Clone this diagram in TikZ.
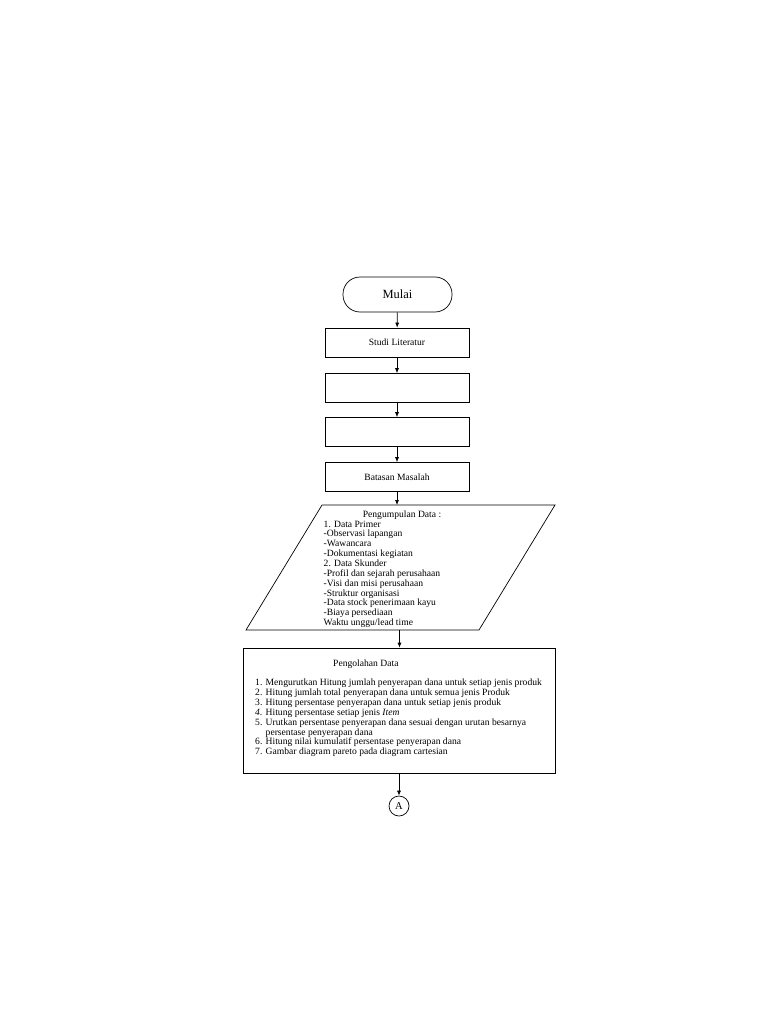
\documentclass[tikz,border=0pt]{standalone}
\usepackage{fontspec}
\setmainfont{Liberation Serif}
\usetikzlibrary{arrows.meta}
\begin{document}
\begin{tikzpicture}[x=1pt,y=-1pt,
  every node/.style={inner sep=0pt},
  proc/.style={draw,line width=0.7pt,minimum width=144pt,minimum height=29pt,font=\fontsize{9.6}{11}\selectfont},
  term/.style={draw,line width=0.7pt,rounded corners=17pt,minimum width=109pt,minimum height=35pt,font=\fontsize{12.5}{14}\selectfont},
  flow/.style={line width=0.7pt,-{Latex[length=5pt,width=4pt]}},
  txt/.style={font=\fontsize{9.6}{9.85}\selectfont,align=left}]
\useasboundingbox (0,0) rectangle (768,1024);
\node[term] (mulai) at (397.5,294.5) {Mulai};
\node[proc] (studi) at (397,342.5) {Studi Literatur};
\node[proc] (b2) at (397,388) {};
\node[proc] (b3) at (397,432) {};
\node[proc] (batas) at (397,477) {Batasan Masalah};
% parallelogram
\coordinate (pTL) at (322,505);
\coordinate (pTR) at (555,505);
\coordinate (pBR) at (479,630);
\coordinate (pBL) at (246,630);
\coordinate (pTop) at (397,505);
\coordinate (pBot) at (399.5,630);
\draw[line width=0.7pt] (pTL) -- (pTR) -- (pBR) -- (pBL) -- cycle;
\node[txt,anchor=base] (ptitle) at (402,517) {Pengumpulan Data :};
\node[txt,anchor=north west] (plist) at (323.5,520.5) {1. Data Primer\\
-Observasi lapangan\\
-Wawancara\\
-Dokumentasi kegiatan\\
2. Data Skunder\\
-Profil dan sejarah perusahaan\\
-Visi dan misi perusahaan\\
-Struktur organisasi\\
-Data stock penerimaan kayu\\
-Biaya persediaan\\
Waktu unggu/lead time};
\node[draw,line width=0.7pt,minimum width=312pt,minimum height=125pt] (olah) at (399,710.5) {};
\node[txt,anchor=base west] (otitle) at (333,666) {Pengolahan Data};
\newcommand{\itm}[1]{\makebox[10.5pt][l]{#1}}
\node[txt,anchor=north west] (olist) at (255,679) {\itm{1.}Mengurutkan Hitung jumlah penyerapan dana untuk setiap jenis produk\\
\itm{2.}Hitung jumlah total penyerapan dana untuk semua jenis Produk\\
\itm{3.}Hitung persentase penyerapan dana untuk setiap jenis produk\\
\itm{\textit{4.}}Hitung persentase setiap jenis \textit{Item}\\
\itm{5.}Urutkan persentase penyerapan dana sesuai dengan urutan besarnya\\
\itm{}persentase penyerapan dana\\
\itm{6.}Hitung nilai kumulatif persentase penyerapan dana\\
\itm{7.}Gambar diagram pareto pada diagram cartesian};
\node[draw,circle,line width=0.7pt,minimum size=20pt,font=\fontsize{10.5}{12}\selectfont] (A) at (399,806) {A};
\draw[flow] (mulai) -- (studi);
\draw[flow] (studi) -- (b2);
\draw[flow] (b2) -- (b3);
\draw[flow] (b3) -- (batas);
\draw[flow] (batas.south) -- (pTop);
\draw[flow] (pBot) -- (pBot |- olah.north);
\draw[flow] (olah.south -| A) -- (A);
\end{tikzpicture}
\end{document}
